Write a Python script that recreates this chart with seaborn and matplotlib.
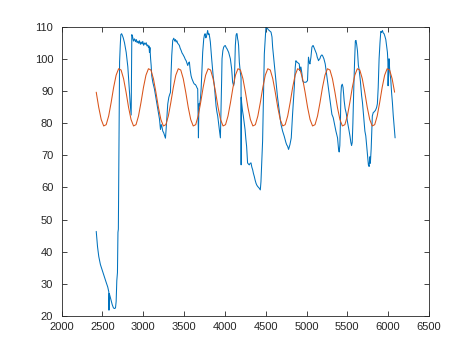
import numpy as np
import pandas as pd
import matplotlib
matplotlib.use("Agg")
import matplotlib.pyplot as plt
import seaborn as sns

# ---- blue measured series ----
blue_x = [2424, 2440, 2455, 2475, 2500, 2520, 2545, 2565, 2578, 2580, 2584, 2600, 2620, 2635, 2648, 2660,
          2668, 2676, 2684, 2690, 2695, 2700, 2705, 2710, 2718, 2725, 2735, 2745, 2755, 2770, 2780, 2791,
          2800, 2811, 2823, 2833, 2840, 2852, 2860, 2870, 2880, 2893, 2905, 2914, 2925, 2935, 2945, 2954,
          2965, 2975, 2985, 2994, 3005, 3015, 3025, 3036, 3045, 3055, 3064, 3070, 3076, 3082, 3090, 3097,
          3104, 3117, 3137, 3158, 3178, 3199, 3211, 3220, 3227, 3239, 3250, 3260, 3272, 3280, 3288, 3300,
          3313, 3325, 3333, 3340, 3349, 3361, 3374, 3385, 3395, 3403, 3412, 3422, 3433, 3443, 3452, 3464,
          3475, 3483, 3495, 3504, 3515, 3525, 3535, 3545, 3555, 3565, 3575, 3586, 3596, 3606, 3617, 3627,
          3638, 3648, 3658, 3667, 3676, 3682, 3688, 3700, 3709, 3718, 3728, 3741, 3750, 3758, 3766, 3773,
          3782, 3789, 3797, 3806, 3815, 3822, 3830, 3838, 3847, 3856, 3871, 3882, 3892, 3902, 3912, 3922,
          3932, 3945, 3953, 3960, 3965, 3975, 3985, 3995, 4006, 4015, 4026, 4035, 4046, 4056, 4067, 4075,
          4083, 4095, 4107, 4116, 4122, 4128, 4137, 4143, 4149, 4156, 4162, 4168, 4177, 4189, 4198, 4199,
          4201, 4205, 4215, 4226, 4237, 4247, 4257, 4266, 4278, 4290, 4299, 4310, 4320, 4330, 4340, 4350,
          4360, 4370, 4381, 4391, 4401, 4412, 4422, 4434, 4442, 4452, 4462, 4472, 4483, 4493, 4503, 4513,
          4523, 4533, 4544, 4555, 4565, 4577, 4585, 4595, 4605, 4626, 4645, 4666, 4687, 4707, 4727, 4738,
          4748, 4758, 4768, 4780, 4788, 4797, 4813, 4829, 4850, 4862, 4870, 4880, 4890, 4900, 4911, 4919,
          4926, 4932, 4944, 4951, 4962, 4972, 4983, 4993, 5002, 5012, 5024, 5033, 5042, 5054, 5066, 5074,
          5082, 5090, 5098, 5107, 5115, 5123, 5131, 5139, 5147, 5155, 5164, 5172, 5180, 5188, 5196, 5205,
          5213, 5220, 5229, 5237, 5245, 5253, 5262, 5270, 5278, 5294, 5311, 5327, 5343, 5360, 5370, 5380,
          5392, 5400, 5408, 5415, 5421, 5428, 5438, 5448, 5461, 5473, 5487, 5501, 5512, 5522, 5532, 5543,
          5552, 5560, 5568, 5578, 5588, 5598, 5606, 5614, 5624, 5635, 5645, 5660, 5675, 5685, 5700, 5715,
          5726, 5738, 5750, 5758, 5767, 5775, 5782, 5792, 5806, 5818, 5830, 5845, 5858, 5868, 5878, 5889,
          5900, 5910, 5920, 5930, 5940, 5950, 5960, 5971, 5981, 5991, 5997, 5999, 6005, 6011, 6020, 6032,
          6042, 6052, 6062, 6073, 6085]
blue_y = [46.3, 41.5, 38.5, 36.0, 34.0, 32.5, 30.5, 29.0, 27.5, 21.8, 27.0, 25.5, 23.5, 22.5, 22.3, 22.5,
          24.5, 31.0, 33.5, 46.0, 47.0, 66.0, 80.0, 99.0, 104.0, 107.5, 107.8, 107.2, 106.5, 105.0, 103.5, 102.0,
          100.0, 97.5, 93.0, 89.0, 86.0, 82.5, 107.5, 106.8, 105.5, 106.2, 105.3, 106.0, 105.0, 105.5, 104.8, 105.6,
          104.5, 105.2, 104.6, 105.4, 104.2, 104.9, 104.5, 105.0, 104.0, 104.3, 103.5, 104.0, 102.0, 103.5, 100.0, 97.9,
          94.7, 92.7, 90.6, 87.4, 84.3, 81.2, 78.0, 79.5, 79.1, 77.5, 77.0, 76.2, 75.3, 78.0, 81.2, 85.9,
          88.0, 89.0, 89.5, 95.0, 101.0, 105.7, 106.4, 105.5, 106.0, 105.2, 105.6, 104.8, 104.5, 104.1, 103.3, 102.6,
          101.8, 101.5, 100.9, 100.5, 99.8, 99.4, 98.6, 97.9, 98.7, 99.0, 96.5, 94.7, 93.8, 93.2, 92.5, 92.1,
          92.0, 91.6, 91.0, 90.6, 75.4, 86.0, 85.3, 87.4, 90.6, 96.0, 102.0, 106.2, 107.5, 107.8, 106.5, 106.8,
          108.0, 108.8, 107.5, 107.8, 106.5, 105.2, 102.5, 100.0, 97.5, 94.7, 91.6, 88.5, 85.3, 83.5, 82.2, 80.0,
          78.0, 75.4, 84.3, 93.0, 100.0, 102.5, 103.6, 104.0, 104.1, 103.5, 103.1, 102.6, 102.0, 101.0, 100.0, 98.5,
          96.8, 92.7, 91.6, 92.7, 98.0, 104.1, 107.3, 107.8, 107.8, 106.2, 105.5, 104.1, 98.9, 95.8, 94.1, 67.0,
          88.0, 86.4, 84.0, 82.2, 80.0, 78.0, 75.0, 72.8, 67.6, 67.2, 67.0, 67.5, 67.6, 66.3, 65.5, 64.3,
          63.4, 62.3, 61.3, 60.7, 60.3, 60.0, 59.7, 59.2, 61.8, 68.0, 74.4, 88.0, 101.5, 106.0, 109.9, 109.6,
          109.4, 109.0, 108.8, 108.5, 108.3, 106.8, 103.6, 101.0, 98.4, 93.2, 88.0, 83.8, 79.6, 77.5, 75.9, 74.8,
          73.9, 73.2, 72.8, 71.8, 72.5, 73.3, 75.4, 82.7, 91.1, 97.4, 99.4, 99.0, 98.9, 98.6, 98.4, 96.3,
          97.4, 97.4, 95.3, 93.2, 92.8, 92.7, 92.7, 92.7, 92.9, 93.2, 100.5, 99.0, 98.4, 100.5, 103.6, 104.0,
          104.1, 103.6, 103.1, 102.5, 102.0, 101.5, 100.5, 100.0, 99.4, 99.8, 100.0, 100.7, 101.0, 101.2, 101.0, 100.5,
          100.0, 99.3, 98.4, 96.8, 95.3, 93.8, 92.1, 90.5, 89.0, 85.9, 82.7, 81.7, 79.6, 77.5, 76.5, 75.4,
          72.0, 71.0, 73.0, 80.0, 89.0, 91.6, 92.1, 91.0, 87.0, 84.5, 83.0, 80.5, 79.0, 77.5, 76.0, 74.0,
          73.0, 74.0, 80.0, 90.0, 98.5, 105.5, 105.7, 104.5, 102.5, 98.0, 96.5, 93.0, 88.5, 86.5, 82.0, 77.5,
          76.0, 72.5, 69.0, 67.0, 66.5, 69.5, 67.5, 72.0, 82.2, 83.3, 83.5, 84.0, 84.8, 86.0, 91.0, 100.0,
          105.0, 108.5, 108.2, 108.8, 108.0, 107.8, 107.0, 106.0, 104.0, 102.0, 99.0, 91.6, 97.0, 100.0, 96.0, 93.5,
          89.5, 86.4, 82.5, 79.1, 75.4]

# ---- orange periodic reference series (sampled evenly from x start to x end) ----
orange_x_start = 2424
orange_x_end = 6079
orange_y = [89.6, 84.9, 81.1, 79.1, 79.5, 82.2, 86.4, 91.1, 94.9, 96.9, 96.5, 93.8,
            89.6, 84.9, 81.1, 79.1, 79.5, 82.2, 86.4, 91.1, 94.9, 96.9, 96.5, 93.8,
            89.6, 84.9, 81.1, 79.1, 79.5, 82.2, 86.4, 91.1, 94.9, 96.9, 96.5, 93.8,
            89.6, 84.9, 81.1, 79.1, 79.5, 82.2, 86.4, 91.1, 94.9, 96.9, 96.5, 93.8,
            89.6, 84.9, 81.1, 79.1, 79.5, 82.2, 86.4, 91.1, 94.9, 96.9, 96.5, 93.8,
            89.6, 84.9, 81.1, 79.1, 79.5, 82.2, 86.4, 91.1, 94.9, 96.9, 96.5, 93.8,
            89.6, 84.9, 81.1, 79.1, 79.5, 82.2, 86.4, 91.1, 94.9, 96.9, 96.5, 93.8,
            89.6, 84.9, 81.1, 79.1, 79.5, 82.2, 86.4, 91.1, 94.9, 96.9, 96.5, 93.8,
            89.6, 84.9, 81.1, 79.1, 79.5, 82.2, 86.4, 91.1, 94.9, 96.9, 96.5, 93.8,
            89.6, 84.9, 81.1, 79.1, 79.5, 82.2, 86.4, 91.1, 94.9, 96.9, 96.5, 93.8,
            89.6]

x_ticks = [2000, 2500, 3000, 3500, 4000, 4500, 5000, 5500, 6000, 6500]
y_ticks = [20, 30, 40, 50, 60, 70, 80, 90, 100, 110]

sns.set_style("white")
plt.rcParams['font.family'] = ['Liberation Sans', 'DejaVu Sans']

blue_df = pd.DataFrame({"x": blue_x, "y": blue_y})
orange_x = np.linspace(orange_x_start, orange_x_end, len(orange_y))
orange_df = pd.DataFrame({"x": orange_x, "y": orange_y})

fig = plt.figure(figsize=(4.74, 3.55), dpi=100)
ax = fig.add_axes([0.13, 0.11, 0.775, 0.815])

sns.lineplot(data=blue_df, x="x", y="y", ax=ax, color="#0072BD", linewidth=0.75,
             estimator=None, sort=False)
sns.lineplot(data=orange_df, x="x", y="y", ax=ax, color="#D95319", linewidth=0.75,
             estimator=None, sort=False)

ax.set_xlim(2000, 6500)
ax.set_ylim(20, 110)
ax.set_xticks(x_ticks)
ax.set_yticks(y_ticks)
ax.set_xlabel("")
ax.set_ylabel("")

edge = "#262626"
for s in ax.spines.values():
    s.set_visible(True)
    s.set_color(edge)
    s.set_linewidth(0.6)
ax.tick_params(direction="in", length=3.5, width=0.6, color=edge, labelcolor=edge,
               labelsize=8, top=True, right=True, bottom=True, left=True,
               labeltop=False, labelright=False)
ax.tick_params(axis="x", pad=4.5)
ax.tick_params(axis="y", pad=6)

fig.savefig("out.png", dpi=100, facecolor="white")
